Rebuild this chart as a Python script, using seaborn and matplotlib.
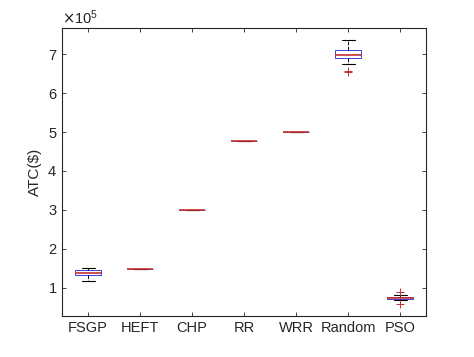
import numpy as np
import pandas as pd
import seaborn as sns
import matplotlib.pyplot as plt
from matplotlib.ticker import ScalarFormatter

# algorithms on the x axis
algorithms = ['FSGP', 'HEFT', 'CHP', 'RR', 'WRR', 'Random', 'PSO']

# sample ATC values (in units of 1e5 $)
fsgp = [1.17, 1.32, 1.37, 1.44, 1.51]
heft = [1.49, 1.49, 1.49, 1.49, 1.49]
chp = [3.00, 3.00, 3.00, 3.00, 3.00]
rr = [4.78, 4.78, 4.78, 4.78, 4.78]
wrr = [5.01, 5.01, 5.01, 5.01, 5.01]
random_ = [6.54, 6.57, 6.76, 6.91, 6.93, 6.96, 6.99, 7.02, 7.06, 7.10, 7.20, 7.30, 7.36]
pso = [0.58, 0.67, 0.715, 0.73, 0.74, 0.755, 0.765, 0.82, 0.88]

series = [fsgp, heft, chp, rr, wrr, random_, pso]
df = pd.DataFrame({
    'alg': np.repeat(algorithms, [len(s) for s in series]),
    'atc': np.concatenate(series) * 1e5,
})

sns.set_theme(style='white')
plt.rcParams['font.family'] = ['Liberation Sans', 'DejaVu Sans']

fig = plt.figure(figsize=(4.74, 3.57), dpi=100)
ax = fig.add_axes([0.131, 0.115, 0.768, 0.807])

sns.boxplot(data=df, x='alg', y='atc', order=algorithms, ax=ax, width=0.5,
            whis=1.5, color='white', linewidth=0.7,
            boxprops=dict(facecolor='white', edgecolor='#4040d8'),
            medianprops=dict(color='#c83030', linewidth=1.2),
            whiskerprops=dict(color='black', linestyle='--', linewidth=0.7),
            capprops=dict(color='black', linewidth=0.8),
            flierprops=dict(marker='+', markeredgecolor='#c83030',
                            markersize=6, markeredgewidth=0.7))

ax.set_xlim(-0.5, 6.5)
ax.set_ylim(0.27e5, 7.68e5)
ax.set_yticks(np.arange(1, 8) * 1e5)
fmt = ScalarFormatter(useMathText=True)
fmt.set_powerlimits((5, 5))
ax.yaxis.set_major_formatter(fmt)
ax.yaxis.get_offset_text().set_fontsize(10.5)
ax.yaxis.get_offset_text().set_color('#262626')

ax.set_xlabel('')
ax.set_ylabel('ATC($)', fontsize=11)
ax.tick_params(axis='both', direction='in', length=3, width=0.6,
               labelsize=10.5, colors='#262626', top=True, right=True,
               bottom=True, left=True)
for s in ax.spines.values():
    s.set_color('#262626')
    s.set_linewidth(0.8)

fig.savefig('out.png', dpi=100)
